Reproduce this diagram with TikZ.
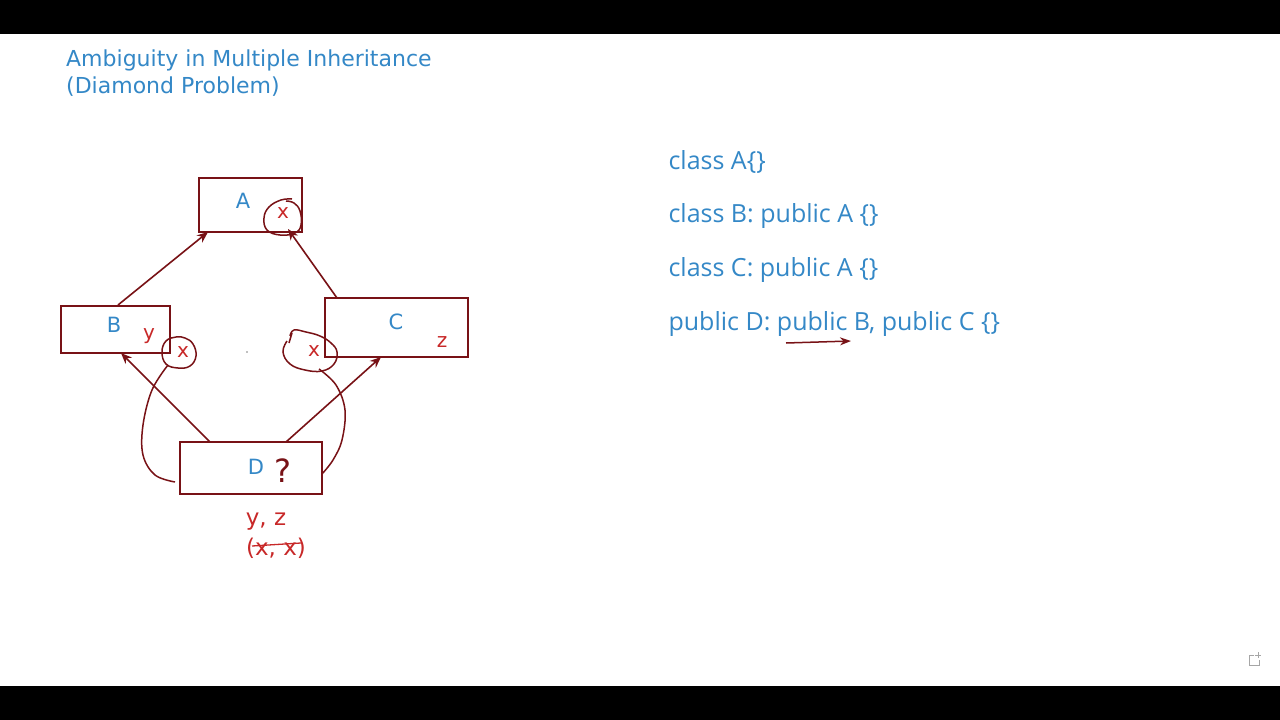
\documentclass[tikz,border=0pt]{standalone}
\usepackage{fontspec}
\setmainfont{DejaVu Sans}
\newfontfamily\codefont{Open Sans}
\usetikzlibrary{arrows.meta}
\definecolor{slideblue}{RGB}{52,136,199}
\definecolor{inkred}{RGB}{200,40,40}
\definecolor{inkdark}{RGB}{120,18,22}
\tikzset{
  cls/.style={draw=inkdark, line width=1.7pt, inner sep=0pt},
  boxlabel/.style={text=slideblue, font=\fontsize{21}{24}\selectfont},
  redlabel/.style={text=inkred, font=\fontsize{20}{22}\selectfont},
  memlabel/.style={text=inkred, font=\fontsize{23}{26}\selectfont},
  inherit/.style={draw=inkdark, line width=1.6pt, -{Stealth[length=11pt,width=9pt]}},
  ink/.style={draw=inkdark, line width=1.5pt},
  codeline/.style={anchor=west, text=slideblue, font=\codefont\fontsize{25}{28}\selectfont},
}
\begin{document}
\begin{tikzpicture}[x=1pt,y=-1pt]
\useasboundingbox (0,0) rectangle (1280,720);
\fill[white] (0,0) rectangle (1280,720);
\fill[black] (0,0) rectangle (1280,34);
\fill[black] (0,686) rectangle (1280,720);

% title
\node[anchor=north west, align=left, text=slideblue, font=\fontsize{22}{27}\selectfont, inner sep=0pt] (title) at (66,50)
  {Ambiguity in Multiple Inheritance\\(Diamond Problem)};

% class boxes
\node[cls, minimum width=103pt, minimum height=54pt] (A) at (250.5,205) {};
\node[cls, minimum width=109pt, minimum height=47pt] (B) at (115.5,329.5) {};
\node[cls, minimum width=143pt, minimum height=59pt] (C) at (396.5,327.5) {};
\node[cls, minimum width=142pt, minimum height=52pt] (D) at (251,468) {};

\node[boxlabel] (Alab) at (243,201) {A};
\node[boxlabel] (Blab) at (114,325) {B};
\node[boxlabel] (Clab) at (396,322) {C};
\node[boxlabel] (Dlab) at (256,467) {D};

\node[redlabel] (yB) at (149,336) {y};
\node[redlabel] (zC) at (442,342) {z};
\node[redlabel] (xA) at (283,213) {x};
\node[redlabel] (xB) at (183,352) {x};
\node[redlabel] (xC) at (314,351) {x};

% connector end points
\coordinate (Bt) at (118,305);
\coordinate (Ab1) at (208,232);
\coordinate (Ct) at (337,298);
\coordinate (Ab2) at (288,229);
\coordinate (Dt1) at (210,442);
\coordinate (Bb) at (121,353);
\coordinate (Dt2) at (286,442);
\coordinate (Cb) at (381,357);

\draw[inherit] (Bt) -- (Ab1);
\draw[inherit] (Ct) -- (Ab2);
\draw[inherit] (Dt1) -- (Bb);
\draw[inherit] (Dt2) -- (Cb);

% hand-drawn loops
\draw[ink] plot[smooth, tension=0.7] coordinates {(292,199) (281,200) (269,207) (264,218) (267,230) (280,235) (295,233) (301,225) (300,211) (294,203) (286,201)};
\draw[ink] plot[smooth cycle, tension=0.7] coordinates {(176,337) (166,341) (162,352) (166,364) (178,368) (190,366) (196,356) (193,344) (185,338)};
\draw[ink] plot[smooth, tension=0.7] coordinates {(290,336) (294,330) (306,332) (320,336) (331,343) (337,352) (334,364) (322,371) (305,370) (290,364) (283,352) (287,341)};
\draw[ink] (292,333) -- (289,343);

% long connecting strokes
\draw[ink] plot[smooth, tension=0.6] coordinates {(168,365) (152,390) (143,425) (143,455) (155,475) (175,482)};
\draw[ink] plot[smooth, tension=0.6] coordinates {(319,369) (336,385) (345,410) (342,440) (333,460) (322,474)};

% question mark
\node[text=inkdark, font=\fontsize{32}{34}\selectfont] (q) at (283,471) {?};

% member list under D
\node[memlabel] (yz) at (266,522) {y, z};
\node[memlabel] (xx) at (276,548) {(x, x)};
\draw[ink, draw=inkred, line width=1.3pt] (252,546) -- (301,543);

% stray dot
\fill[gray] (247,352) circle (0.9pt);

% code
\node[codeline] (l1) at (665,162) {class A\{\}};
\node[codeline] (l2) at (665,216) {class B: public A \{\}};
\node[codeline] (l3) at (665,270) {class C: public A \{\}};
\node[codeline] (l4) at (665,324) {public D: public B, public C \{\}};
\coordinate (ua) at (786,343);
\coordinate (ub) at (851,341);
\draw[draw=inkdark, line width=1.5pt, -{Stealth[length=11pt,width=8pt]}] (ua) -- (ub);

% corner icon
\draw[gray!70, line width=0.9pt] (1254,655) -- (1249,655) -- (1249,665) -- (1259,665) -- (1259,660);
\draw[gray!70, line width=0.8pt] (1258,652) -- (1258,658) (1255,655) -- (1261,655);
\end{tikzpicture}
\end{document}
